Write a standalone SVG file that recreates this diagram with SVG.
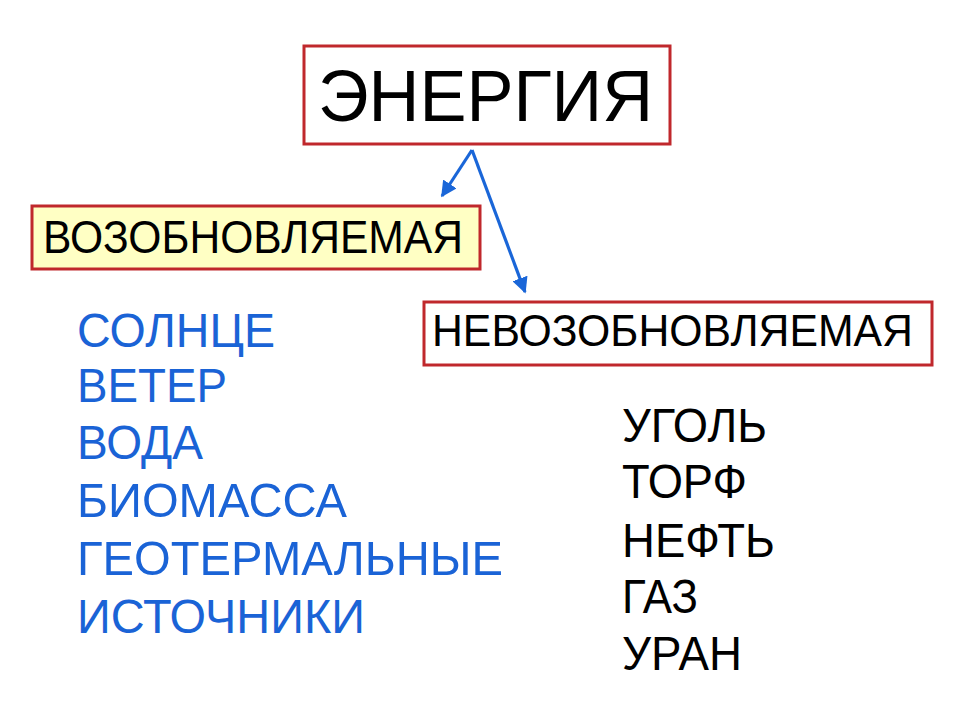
<svg xmlns="http://www.w3.org/2000/svg" width="960" height="720" viewBox="0 0 960 720">
<defs>
<style>
text{font-family:"Liberation Sans",Arial,sans-serif}
.box{stroke:#c0282c;stroke-width:3}
.blue{fill:#1a63d6;font-size:49px}
.blk{fill:#000;font-size:49px}
.conn{stroke:#1a66d8;stroke-width:3.2;fill:none}
</style>
<marker id="ah" viewBox="0 0 10 10" refX="9" refY="5" markerWidth="5" markerHeight="5" orient="auto" markerUnits="strokeWidth">
<path d="M0,0 L10,5 L0,10 z" fill="#1a66d8"/>
</marker>
</defs>
<rect width="960" height="720" fill="#fff"/>
<g id="connectors">
<line class="conn" x1="472" y1="150" x2="442" y2="196" marker-end="url(#ah)"/>
<line class="conn" x1="472" y1="150" x2="525" y2="292" marker-end="url(#ah)"/>
</g>
<g id="energy">
<rect class="box" x="304" y="46" width="366" height="98" fill="#fff"/>
<text x="318" y="121" font-size="72.5" textLength="335" lengthAdjust="spacingAndGlyphs" fill="#000">ЭНЕРГИЯ</text>
</g>
<g id="renewable">
<rect class="box" x="32" y="206" width="448" height="63" fill="#ffffc4"/>
<text x="43" y="253" font-size="46" textLength="420" lengthAdjust="spacingAndGlyphs" fill="#000">ВОЗОБНОВЛЯЕМАЯ</text>
</g>
<g id="nonrenewable">
<rect class="box" x="424" y="302" width="508" height="63" fill="#fff"/>
<text x="432" y="346" font-size="43.5" textLength="481" lengthAdjust="spacingAndGlyphs" fill="#000">НЕВОЗОБНОВЛЯЕМАЯ</text>
</g>
<g id="renewable-list">
<text class="blue" x="77" y="347" textLength="198" lengthAdjust="spacingAndGlyphs">СОЛНЦЕ</text>
<text class="blue" x="77" y="402" textLength="150" lengthAdjust="spacingAndGlyphs">ВЕТЕР</text>
<text class="blue" x="77" y="459" textLength="126" lengthAdjust="spacingAndGlyphs">ВОДА</text>
<text class="blue" x="77" y="517" textLength="270" lengthAdjust="spacingAndGlyphs">БИОМАССА</text>
<text class="blue" x="77" y="575" textLength="426" lengthAdjust="spacingAndGlyphs">ГЕОТЕРМАЛЬНЫЕ</text>
<text class="blue" x="77" y="633" textLength="288" lengthAdjust="spacingAndGlyphs">ИСТОЧНИКИ</text>
</g>
<g id="nonrenewable-list">
<text class="blk" x="622" y="442" textLength="145" lengthAdjust="spacingAndGlyphs">УГОЛЬ</text>
<text class="blk" x="622" y="498" textLength="125" lengthAdjust="spacingAndGlyphs">ТОРФ</text>
<text class="blk" x="622" y="557" textLength="153" lengthAdjust="spacingAndGlyphs">НЕФТЬ</text>
<text class="blk" x="622" y="613" textLength="76" lengthAdjust="spacingAndGlyphs">ГАЗ</text>
<text class="blk" x="622" y="670" textLength="120" lengthAdjust="spacingAndGlyphs">УРАН</text>
</g>
</svg>
